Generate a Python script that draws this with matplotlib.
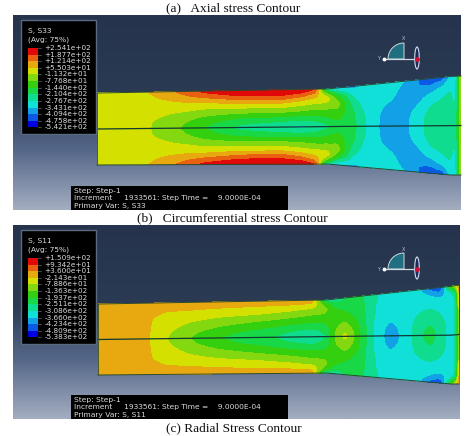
import numpy as np
import matplotlib
matplotlib.use("Agg")
import matplotlib.pyplot as plt
from matplotlib.colors import ListedColormap, BoundaryNorm, LinearSegmentedColormap
from matplotlib.patches import Rectangle, Wedge, Ellipse

# ── Band values, top of legend first ──────────────────────────
labels_a = ["+2.541e+02", "+1.877e+02", "+1.214e+02", "+5.503e+01", "-1.132e+01",
            "-7.768e+01", "-1.440e+02", "-2.104e+02", "-2.767e+02", "-3.431e+02",
            "-4.094e+02", "-4.758e+02", "-5.421e+02"]
labels_c = ["+1.509e+02", "+9.342e+01", "+3.600e+01", "-2.143e+01", "-7.886e+01",
            "-1.363e+02", "-1.937e+02", "-2.511e+02", "-3.086e+02", "-3.660e+02",
            "-4.234e+02", "-4.809e+02", "-5.383e+02"]

# band colours, blue (0) up to red (11)
band_colors = ["#0000e0", "#0a5ae6", "#12a0e6", "#10e0d8", "#10dc90", "#18d848",
               "#34d010", "#84d810", "#d4e000", "#e8a810", "#e86010", "#e00808"]

# ── Outlines in pixels ────────────────────────────────────────
outline_x_a = [97, 327, 450, 461]
outline_top_a = [93, 89, 76.5, 76]
outline_bot_a = [165, 164, 175, 175]

outline_x_c = [98, 326, 450, 459]
outline_top_c = [304, 300, 286.5, 285]
outline_bot_c = [375, 373, 384, 384]

# fraction of half height from the mid line out to the edge
frac = [0, 0.15, 0.3, 0.45, 0.6, 0.75, 0.88, 1]

# band value per station (rows) and fraction (columns)
stations_a = [97, 125, 148, 165, 185, 205, 240, 280, 300, 315, 327, 338, 352, 365,
              380, 392, 405, 418, 430, 442, 450, 456, 461]
field_a = [
    [8.5, 8.5, 8.5, 8.5, 8.5, 8.5, 8.5, 8.5],
    [8.5, 8.5, 8.5, 8.5, 8.5, 8.5, 8.5, 8.6],
    [8.1, 8.1, 8.2, 8.4, 8.6, 8.7, 8.8, 9.0],
    [7.5, 7.6, 7.9, 8.2, 8.6, 8.9, 9.3, 9.6],
    [6.8, 7.0, 7.4, 8.0, 8.5, 9.2, 9.9, 10.4],
    [6.0, 6.3, 6.9, 7.7, 8.4, 9.4, 10.5, 11.3],
    [4.7, 5.3, 6.3, 7.5, 8.5, 10.0, 11.2, 12.0],
    [4.2, 5.0, 6.2, 7.5, 8.6, 10.2, 11.3, 12.0],
    [3.7, 4.8, 6.0, 7.2, 8.2, 9.5, 10.8, 12.0],
    [3.8, 5.0, 6.0, 6.9, 7.9, 8.8, 9.8, 11.0],
    [4.6, 5.5, 6.2, 6.9, 7.8, 8.5, 7.0, 3.5],
    [5.9, 6.0, 6.4, 7.0, 7.4, 6.4, 4.5, 2.8],
    [5.5, 5.3, 5.3, 5.0, 4.6, 4.0, 3.4, 2.6],
    [4.0, 4.0, 3.9, 3.7, 3.4, 3.2, 3.2, 3.2],
    [2.9, 2.95, 3.0, 3.1, 3.2, 3.3, 3.3, 3.3],
    [2.4, 2.4, 2.5, 2.8, 3.0, 3.2, 3.3, 3.3],
    [2.6, 2.6, 2.5, 2.4, 2.5, 2.6, 2.8, 3.0],
    [3.7, 3.7, 3.4, 3.0, 2.6, 2.3, 2.0, 2.0],
    [4.3, 4.3, 4.2, 3.9, 3.4, 2.6, 1.8, 1.4],
    [4.6, 4.6, 4.5, 4.3, 3.9, 3.4, 2.4, 1.2],
    [4.6, 4.6, 4.6, 4.4, 4.2, 4.0, 3.7, 3.2],
    [3.9, 3.9, 3.8, 3.7, 3.5, 3.4, 3.3, 3.3],
    [8.5, 8.5, 8.5, 8.5, 8.5, 8.5, 8.5, 8.5],
]

stations_c = [98, 125, 148, 165, 190, 220, 260, 290, 312, 325, 335, 345, 355, 365,
              375, 390, 405, 418, 430, 440, 450, 456, 459]
field_c = [
    [9.5, 9.5, 9.5, 9.5, 9.5, 9.5, 9.5, 9.5],
    [9.5, 9.5, 9.5, 9.5, 9.5, 9.5, 9.5, 9.5],
    [9.1, 9.1, 9.1, 9.1, 9.1, 9.3, 9.5, 9.5],
    [8.1, 8.2, 8.4, 8.6, 8.8, 9.0, 9.3, 9.5],
    [7.0, 7.2, 7.6, 8.0, 8.4, 8.9, 9.3, 9.6],
    [6.0, 6.3, 6.9, 7.5, 8.1, 8.7, 9.2, 9.7],
    [5.3, 5.6, 6.3, 7.0, 7.8, 8.5, 9.1, 9.8],
    [4.6, 5.0, 5.8, 6.6, 7.4, 8.2, 9.0, 9.8],
    [3.8, 4.6, 5.5, 6.3, 7.0, 7.8, 8.8, 9.6],
    [4.8, 5.2, 5.7, 6.3, 6.9, 7.3, 6.5, 4.2],
    [7.0, 6.9, 6.7, 6.5, 6.4, 6.0, 5.3, 4.0],
    [8.3, 8.0, 7.3, 6.8, 6.2, 5.6, 5.2, 5.0],
    [6.9, 6.7, 6.4, 6.0, 5.6, 5.3, 5.1, 5.0],
    [5.2, 5.2, 5.1, 5.1, 5.0, 5.0, 5.0, 5.0],
    [3.7, 3.7, 3.8, 3.9, 4.0, 4.0, 4.1, 4.1],
    [2.5, 2.6, 2.9, 3.2, 3.4, 3.5, 3.6, 3.6],
    [3.3, 3.3, 3.4, 3.5, 3.5, 3.5, 3.5, 3.5],
    [4.6, 4.5, 4.3, 4.0, 3.8, 3.6, 3.5, 3.4],
    [5.5, 5.2, 4.8, 4.3, 3.9, 3.5, 2.8, 1.5],
    [4.6, 4.5, 4.3, 4.0, 3.7, 3.3, 2.2, 0.8],
    [3.6, 3.6, 3.6, 3.5, 3.4, 3.4, 3.8, 6.0],
    [3.7, 3.7, 3.7, 3.6, 3.6, 3.8, 5.0, 8.5],
    [8.5, 8.5, 8.7, 9.0, 9.3, 9.7, 10.3, 10.5],
]

fig = plt.figure(figsize=(4.74, 4.36), dpi=100)
ax = fig.add_axes([0, 0, 1, 1])
ax.set_xlim(0, 474)
ax.set_ylim(436, 0)
ax.axis("off")

cmap = ListedColormap(band_colors)
norm = BoundaryNorm(np.arange(13), 12)
bg_cmap = LinearSegmentedColormap.from_list(
    "bg", [(0, "#25344c"), (0.42, "#2b3b54"), (0.7, "#56688a"), (1, "#a3adc0")])
text_col = "#dcdcdc"


def smooth(a, n, axis):
    # box filter so the contours come out round
    kernel = np.ones(n) / n
    pad = [(0, 0), (0, 0)]
    pad[axis] = (n // 2, n // 2)
    a = np.pad(a, pad, mode="edge")
    return np.apply_along_axis(lambda r: np.convolve(r, kernel, mode="valid"), axis, a)


def draw_panel(x0, x1, y0, y1, outline_x, top, bot, stations, field, labels, name):
    # viewport background
    ax.imshow(np.linspace(0, 1, 128)[:, None], extent=[x0, x1, y1, y0], cmap=bg_cmap,
              aspect="auto", zorder=1)

    # resample the read values on a fine mesh
    vals = np.array(field)
    fx = np.linspace(stations[0], stations[-1], 500)
    ff = np.linspace(0, 1, 90)
    by_x = np.array([np.interp(fx, stations, vals[:, j]) for j in range(vals.shape[1])]).T
    fine = np.array([np.interp(ff, frac, row) for row in by_x])
    fine = smooth(smooth(fine, 7, 0), 5, 1)

    t = np.interp(fx, outline_x, top)
    b = np.interp(fx, outline_x, bot)
    mid = (t + b) / 2
    half = (b - t) / 2

    # contour bands, mirrored over the mid line
    for side in (-1, 1):
        X = np.repeat(fx[:, None], len(ff), axis=1)
        Y = mid[:, None] + side * half[:, None] * ff[None, :]
        ax.contourf(X, Y, fine, levels=np.arange(13), cmap=cmap, norm=norm,
                    extend="both", zorder=2)
    ax.plot(fx, t, color="#2a4a30", lw=0.7, zorder=3)
    ax.plot(fx, b, color="#2a4a30", lw=0.7, zorder=3)
    ax.plot(fx, mid, color="#123a30", lw=0.9, zorder=3)
    ax.plot([fx[0], fx[0]], [t[0], b[0]], color="#4a5a20", lw=0.7, zorder=3)

    # legend box
    lx, ly = 21.5, y0 + 4
    ax.add_patch(Rectangle((lx, ly), 75, 114, fc="black", ec="#5a6a80", lw=1, zorder=4))
    ax.text(28, ly + 11, name, color=text_col, fontsize=5.4, va="center", zorder=5)
    ax.text(28, ly + 19.5, "(Avg: 75%)", color=text_col, fontsize=5.4, va="center", zorder=5)
    step = 6.62
    start = ly + 28
    for i, lab in enumerate(labels):
        yy = start + i * step
        ax.text(44.5, yy, lab, color=text_col, fontsize=5.2, va="center", zorder=5)
        ax.plot([38, 41], [yy, yy], color="#808080", lw=0.4, zorder=5)
        if i < 12:
            ax.add_patch(Rectangle((28.5, yy), 9.5, step, fc=band_colors[11 - i], ec="none", zorder=5))

    # step info box
    ax.add_patch(Rectangle((71, y1 - 24), 217, 24, fc="black", ec="none", zorder=4))
    ax.text(74, y1 - 19.5, "Step: Step-1", color=text_col, fontsize=5.4, va="center", zorder=5)
    ax.text(74, y1 - 12, "Increment     1933561: Step Time =    9.0000E-04", color=text_col,
            fontsize=5.4, va="center", zorder=5)
    ax.text(74, y1 - 4.5, "Primary Var: " + name, color=text_col, fontsize=5.4,
            va="center", zorder=5)

    # orientation triad
    tx, ty = 404, y0 + 43
    ax.add_patch(Wedge((tx, ty), 16, 180, 270, fc="#1f6f80", ec="#d0d8e0", lw=0.7, zorder=5))
    ax.plot([385, 417], [ty, ty], color="#d0d8e0", lw=0.9, zorder=6)
    ax.plot([384], [ty], "o", color="white", ms=1.8, zorder=6)
    ax.add_patch(Ellipse((417, ty - 1), 4.5, 22, fc="#182c58", ec="#d8d8f0", lw=0.8, zorder=6))
    ax.plot([417], [ty], "o", color="#d01030", ms=2.5, zorder=7)
    ax.text(404, ty - 20, "X", color="#c0c0c0", fontsize=3.5, ha="center", va="center", zorder=6)
    ax.text(379, ty, "Y", color="#c0c0c0", fontsize=3.5, ha="center", va="center", zorder=6)


draw_panel(13, 461, 16, 210, outline_x_a, outline_top_a, outline_bot_a, stations_a, field_a, labels_a, "S, S33")
draw_panel(13, 460, 226, 419, outline_x_c, outline_top_c, outline_bot_c, stations_c, field_c, labels_c, "S, S11")

serif = "Liberation Serif"
ax.text(166, 8, "(a)   Axial stress Contour", family=serif, fontsize=9.6, va="center", color="#101010")
ax.text(137, 218, "(b)   Circumferential stress Contour", family=serif, fontsize=9.6, va="center", color="#101010")
ax.text(166, 428, "(c) Radial Stress Contour", family=serif, fontsize=9.6, va="center", color="#101010")

ax.set_xlim(0, 474)
ax.set_ylim(436, 0)
fig.savefig("out.png", dpi=100)
